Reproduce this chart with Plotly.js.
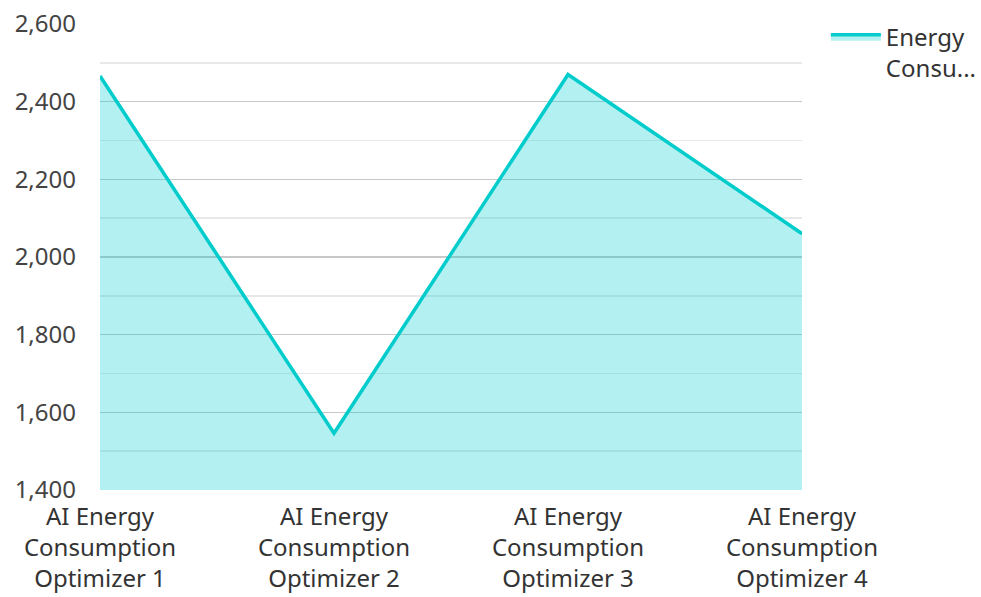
<!DOCTYPE html>
<html>
<head>
<meta charset="utf-8">
<script src="https://cdn.plot.ly/plotly-3.0.1.min.js"></script>
<style>html,body{margin:0;padding:0;background:#fff;}#chart{width:981px;height:597px;}</style>
</head>
<body>
<div id="chart"></div>
<script>
const categories = [
  "AI Energy<br>Consumption<br>Optimizer 1",
  "AI Energy<br>Consumption<br>Optimizer 2",
  "AI Energy<br>Consumption<br>Optimizer 3",
  "AI Energy<br>Consumption<br>Optimizer 4"
];
const energyValues = [2466, 1546, 2470, 2060];
const seriesName = "Energy<br>Consu...";
const yTickVals = [1400, 1600, 1800, 2000, 2200, 2400, 2600];
const yTickText = ["1,400", "1,600", "1,800", "2,000", "2,200", "2,400", "2,600"];

const trace = {
  type: 'scatter',
  mode: 'lines',
  x: categories,
  y: energyValues,
  name: seriesName,
  fill: 'tozeroy',
  fillcolor: 'rgba(0,206,209,0.30)',
  line: {color: '#00CCCC', width: 3.5},
  showlegend: true
};

const layout = {
  width: 981,
  height: 597,
  margin: {l: 100, r: 179, t: 24, b: 107, autoexpand: false},
  paper_bgcolor: '#ffffff',
  plot_bgcolor: '#ffffff',
  font: {family: 'Noto Sans, sans-serif', size: 24, color: '#444444'},
  showlegend: true,
  legend: {
    x: 1.034, y: 1.02, xanchor: 'left', yanchor: 'top',
    itemwidth: 50,
    valign: 'top',
    font: {family: 'Noto Sans, sans-serif', size: 24, color: '#333333'},
    bgcolor: 'rgba(0,0,0,0)'
  },
  xaxis: {
    type: 'category',
    range: [0, 3],
    automargin: false,
    showgrid: false,
    zeroline: false,
    showline: false,
    ticks: '',
    ticklabelstandoff: 10,
    tickfont: {family: 'Noto Sans, sans-serif', size: 24, color: '#333333'}
  },
  yaxis: {
    range: [1400, 2600],
    automargin: false,
    tickvals: yTickVals,
    ticktext: yTickText,
    showgrid: true,
    gridcolor: '#c8c8c8',
    gridwidth: 1.5,
    zeroline: false,
    showline: false,
    ticks: '',
    ticklabelstandoff: 23,
    tickfont: {family: 'Noto Sans, sans-serif', size: 24, color: '#444444'},
    minor: {dtick: 100, showgrid: true, gridcolor: '#e8e8e8', gridwidth: 1.5}
  }
};

Plotly.newPlot('chart', [trace], layout, {displayModeBar: false, staticPlot: true});
</script>
</body>
</html>
